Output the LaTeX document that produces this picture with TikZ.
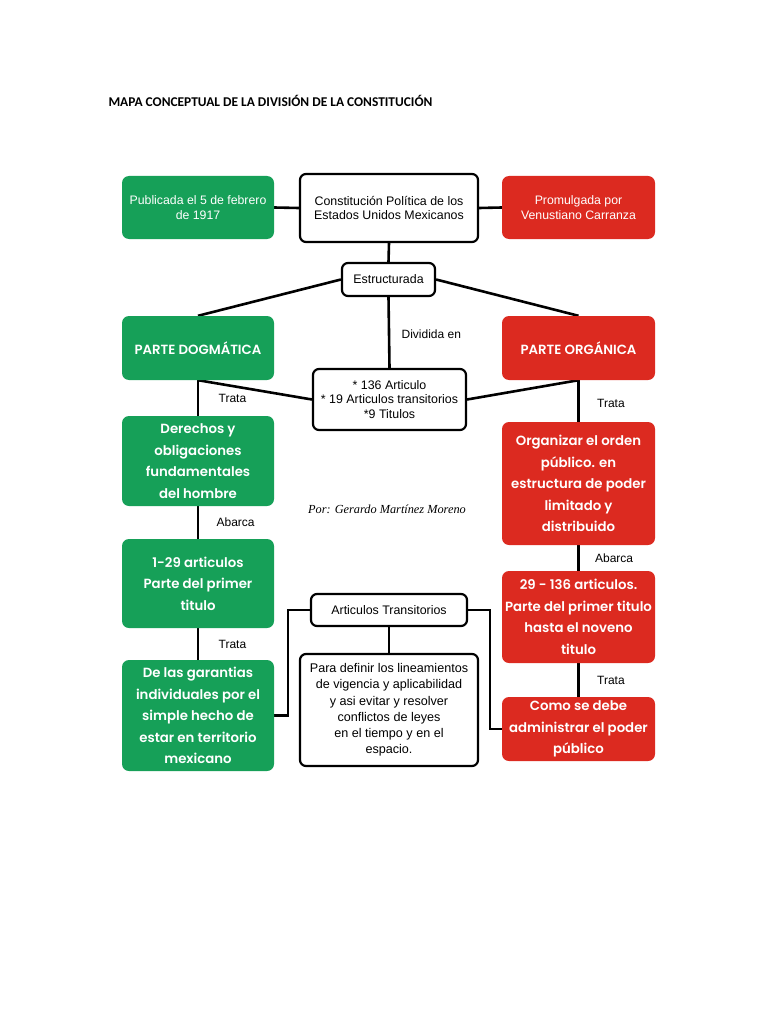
\documentclass[tikz,border=0pt]{standalone}
\usepackage{fontspec}
\usetikzlibrary{backgrounds}
\setmainfont{Liberation Sans}
\newfontfamily\titlefont{Carlito}
\newfontfamily\boldfont{Poppins}[UprightFont=* SemiBold]
\newfontfamily\signfont{Liberation Serif}
\definecolor{mgreen}{RGB}{22,160,88}
\definecolor{mred}{RGB}{220,42,32}
\begin{document}
\begin{tikzpicture}[x=1pt,y=-1pt,
  gbox/.style={fill=mgreen,rounded corners=7pt,text=white,align=center,inner sep=1pt},
  rbox/.style={fill=mred,rounded corners=7pt,text=white,align=center,inner sep=1pt},
  wbox/.style={draw=black,line width=2.2pt,fill=white,rounded corners=6pt,align=center,inner sep=2pt,font=\fontsize{12.4}{14.5}\selectfont},
  plain/.style={font=\fontsize{12.3}{14.5}\selectfont},
  fancy/.style={font=\boldfont\fontsize{13.3}{21.5}\selectfont},
  conn/.style={line width=2.6pt,black},
  lbl/.style={font=\fontsize{12}{14}\selectfont,anchor=west}]
\useasboundingbox (0,0) rectangle (768,1024);
\node[font=\titlefont\bfseries\fontsize{13.4}{15}\selectfont,anchor=west] (title) at (105,101) {MAPA CONCEPTUAL DE LA DIVISIÓN DE LA CONSTITUCIÓN};

\node[gbox,plain,minimum width=152pt,minimum height=63pt] (pub) at (198,207.5) {Publicada el 5 de febrero\\de 1917};
\node[wbox,minimum width=178pt,minimum height=68pt] (cpm) at (389,208) {Constitución Política de los\\Estados Unidos Mexicanos};
\node[rbox,plain,minimum width=153pt,minimum height=63pt] (prom) at (578.5,207.5) {Promulgada por\\Venustiano Carranza};
\node[wbox,minimum width=93pt,minimum height=33pt] (est) at (388.5,279.5) {Estructurada};
\node[gbox,fancy,minimum width=152pt,minimum height=64pt] (dog) at (198,348) {PARTE DOGMÁTICA};
\node[rbox,fancy,minimum width=153pt,minimum height=64pt] (org) at (578.5,348) {PARTE ORGÁNICA};
\node[wbox,minimum width=153pt,minimum height=61pt] (art) at (389.5,399.5) {* 136 Articulo\\* 19 Articulos transitorios\\*9 Titulos};
\node[gbox,fancy,minimum width=152pt,minimum height=90pt] (der) at (198,461) {Derechos y\\obligaciones\\fundamentales\\del hombre};
\node[gbox,fancy,minimum width=152pt,minimum height=89pt] (a129) at (198,583.5) {1-29 articulos\\Parte del primer\\titulo};
\node[gbox,fancy,minimum width=152pt,minimum height=111pt] (gar) at (198,715.5) {De las garantias\\individuales por el\\simple hecho de\\estar en territorio\\mexicano};
\node[rbox,fancy,minimum width=153pt,minimum height=123pt] (orgz) at (578.5,483.5) {Organizar el orden\\público. en\\estructura de poder\\limitado y\\distribuido};
\node[rbox,fancy,minimum width=153pt,minimum height=92pt] (a29) at (578.5,617) {29 - 136 articulos.\\Parte del primer titulo\\hasta el noveno\\titulo};
\node[rbox,fancy,minimum width=153pt,minimum height=64pt] (como) at (578.5,729) {Como se debe\\administrar el poder\\público};
\node[wbox,minimum width=156pt,minimum height=32pt] (trans) at (389,610) {Articulos Transitorios};
\node[wbox,minimum width=178pt,minimum height=112pt,font=\fontsize{12.6}{16.2}\selectfont] (para) at (389,710) {Para definir los lineamientos\\de vigencia y aplicabilidad\\y asi evitar y resolver\\conflictos de leyes\\en el tiempo y en el\\espacio.};
\node[font=\signfont\itshape\fontsize{12.3}{14}\selectfont] (sign) at (387,509) {Por: Gerardo Martínez Moreno};

\begin{pgfonlayer}{background}
\draw[conn] (pub.east) -- (cpm.west);
\draw[conn] (cpm.east) -- (prom.west);
\draw[conn] (cpm.south) -- (est.north);
\draw[conn] (est.west) -- (dog.north);
\draw[conn] (est.east) -- (org.north);
\draw[conn] (est.south) -- node[lbl,xshift=8pt,yshift=-2pt] (ldiv) {Dividida en} (art.north);
\draw[conn] (dog.south) -- (art.west);
\draw[conn] (org.south) -- (art.east);
\draw[conn] (dog.south) -- node[lbl,xshift=16pt] (ltr1) {Trata} (der.north);
\draw[conn] (org.south) -- node[lbl,xshift=14pt,yshift=-2pt] (ltr2) {Trata} (orgz.north);
\draw[conn] (der.south) -- node[lbl,xshift=14pt] (lab1) {Abarca} (a129.north);
\draw[conn] (orgz.south) -- node[lbl,xshift=12pt] (lab2) {Abarca} (a29.north);
\draw[conn] (a129.south) -- node[lbl,xshift=16pt] (ltr3) {Trata} (gar.north);
\draw[conn] (a29.south) -- node[lbl,xshift=14pt] (ltr4) {Trata} (como.north);
\draw[conn] (trans.south) -- (para.north);
\draw[conn] (trans.west) -- (288,610) |- (gar.east);
\draw[conn] (trans.east) -- (490,610) |- (como.east -| a29.west) ;
\end{pgfonlayer}
\end{tikzpicture}
\end{document}
